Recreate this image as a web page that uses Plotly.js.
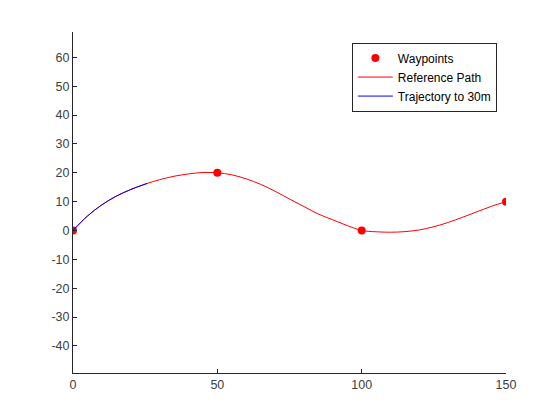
<!DOCTYPE html>
<html>
<head>
<meta charset="utf-8">
<script src="https://cdn.plot.ly/plotly-3.0.1.min.js"></script>
<style>html,body{margin:0;padding:0;background:#fff;}#chart{width:560px;height:420px;}</style>
</head>
<body>
<div id="chart"></div>
<script>
// Waypoints
const waypointX = [0, 50, 100, 150];
const waypointY = [0, 20, 0, 10];

// Reference path
const pathX = [0, 5, 10, 15, 20, 25, 30, 35, 40, 45, 50, 55, 60, 65, 70, 75, 80, 85, 90, 95, 100, 102.5, 105, 110, 115, 120, 125, 130, 135, 140, 145, 150];
const pathY = [0, 5.0, 8.9, 11.9, 14.2, 16.1, 17.6, 18.8, 19.6, 20.1, 20.0, 19.3, 17.9, 16.0, 13.6, 10.9, 8.3, 5.7, 3.7, 1.7, 0, -0.3, -0.45, -0.6, -0.4, 0.2, 1.3, 2.8, 4.6, 6.5, 8.4, 10];

// Trajectory to 30 m
const trajX = [0, 5, 10, 15, 20, 25.7];
const trajY = [0, 5.0, 8.9, 11.9, 14.2, 16.3];

const xTicks = [0, 50, 100, 150];
const yTicks = [-40, -30, -20, -10, 0, 10, 20, 30, 40, 50, 60];

const axisColor = '#262626';

const traces = [
  {x: waypointX, y: waypointY, name: 'Waypoints', mode: 'markers', type: 'scatter',
   marker: {color: '#ff0000', size: 8}},
  {x: pathX, y: pathY, name: 'Reference Path', mode: 'lines', type: 'scatter',
   line: {color: '#ff0000', width: 1, shape: 'spline', smoothing: 1}},
  {x: trajX, y: trajY, name: 'Trajectory to 30m', mode: 'lines', type: 'scatter',
   line: {color: '#0000ff', width: 1, shape: 'spline', smoothing: 1}}
];

const layout = {
  width: 560, height: 420,
  margin: {l: 73, r: 54, t: 32, b: 47, pad: 0},
  paper_bgcolor: '#ffffff', plot_bgcolor: '#ffffff',
  font: {family: 'Liberation Sans, Arial, sans-serif', color: axisColor, size: 12.5},
  showlegend: true,
  legend: {x: 0.644, y: 0.969, xanchor: 'left', yanchor: 'top',
    bordercolor: axisColor, borderwidth: 1, bgcolor: '#ffffff',
    font: {size: 12, color: '#000000'}, tracegroupgap: 0, itemwidth: 35},
  xaxis: {range: [0, 150], tickvals: xTicks, ticktext: xTicks.map(String),
    ticks: 'inside', ticklen: 4, tickcolor: axisColor, tickwidth: 1,
    showline: true, linecolor: axisColor, linewidth: 1, showgrid: false, zeroline: false,
    tickfont: {size: 12.5, color: '#404040'}, fixedrange: true},
  yaxis: {range: [-49.4, 68.8], tickvals: yTicks, ticktext: yTicks.map(String),
    ticks: 'inside', ticklen: 4, tickcolor: axisColor, tickwidth: 1,
    showline: true, linecolor: axisColor, linewidth: 1, showgrid: false, zeroline: false,
    tickfont: {size: 12.5, color: '#404040'}, fixedrange: true}
};

Plotly.newPlot('chart', traces, layout, {displayModeBar: false, staticPlot: true});
</script>
</body>
</html>
